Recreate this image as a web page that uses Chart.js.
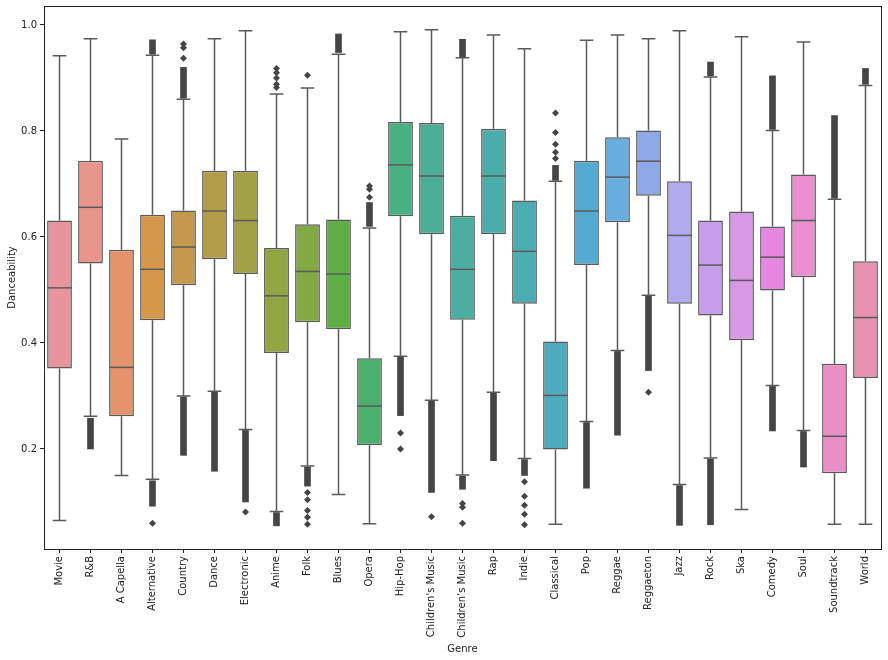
<!DOCTYPE html>
<html>
<head>
<meta charset="utf-8">
<script src="https://cdn.jsdelivr.net/npm/chart.js@4"></script>
<style>
  html, body { margin: 0; padding: 0; background: #fff; }
  #wrap { width: 888px; height: 660px; }
</style>
</head>
<body>
<div id="wrap"><canvas id="box-chart"></canvas></div>
<script>
const genres = ['Movie', 'R&B', 'A Capella', 'Alternative', 'Country', 'Dance', 'Electronic', 'Anime',
  'Folk', 'Blues', 'Opera', 'Hip-Hop', "Children's Music", 'Children\u2019s Music', 'Rap', 'Indie',
  'Classical', 'Pop', 'Reggae', 'Reggaeton', 'Jazz', 'Rock', 'Ska', 'Comedy', 'Soul', 'Soundtrack', 'World']

const whiskerLow = [0.065, 0.262, 0.150, 0.143, 0.300, 0.309, 0.237, 0.082, 0.168, 0.114, 0.059, 0.375, 0.292, 0.151,
  0.307, 0.182, 0.058, 0.252, 0.386, 0.490, 0.133, 0.183, 0.086, 0.320, 0.235, 0.058, 0.058]
const q1 = [0.352, 0.550, 0.262, 0.443, 0.509, 0.558, 0.530, 0.381, 0.439, 0.426, 0.207, 0.639, 0.605, 0.444,
  0.605, 0.474, 0.199, 0.547, 0.628, 0.678, 0.474, 0.452, 0.405, 0.499, 0.524, 0.154, 0.334]
const median = [0.504, 0.656, 0.354, 0.539, 0.581, 0.649, 0.631, 0.489, 0.535, 0.530, 0.281, 0.736, 0.715, 0.539,
  0.715, 0.573, 0.301, 0.649, 0.713, 0.743, 0.603, 0.547, 0.518, 0.562, 0.631, 0.224, 0.448]
const q3 = [0.631, 0.744, 0.576, 0.642, 0.650, 0.725, 0.725, 0.579, 0.624, 0.633, 0.371, 0.817, 0.815, 0.640,
  0.804, 0.669, 0.403, 0.744, 0.788, 0.801, 0.705, 0.631, 0.648, 0.620, 0.718, 0.361, 0.554]
const whiskerHigh = [0.942, 0.974, 0.785, 0.943, 0.860, 0.974, 0.989, 0.870, 0.881, 0.945, 0.617, 0.987, 0.991, 0.938,
  0.981, 0.955, 0.705, 0.971, 0.981, 0.974, 0.989, 0.902, 0.978, 0.801, 0.968, 0.671, 0.886]

// dense runs of outliers, [from, to]
const lowFlierRuns = [null, [0.200, 0.258], null, [0.092, 0.140], [0.188, 0.298], [0.158, 0.307], [0.100, 0.235],
  [0.055, 0.080], [0.130, 0.166], null, null, [0.263, 0.373], [0.118, 0.290], [0.124, 0.149], [0.178, 0.305],
  [0.150, 0.180], null, [0.126, 0.250], [0.226, 0.384], [0.348, 0.488], [0.056, 0.131], [0.057, 0.181], null,
  [0.234, 0.318], [0.166, 0.233], null, null]
const highFlierRuns = [null, null, null, [0.945, 0.972], [0.862, 0.920], null, null, null, null, [0.948, 0.983],
  [0.620, 0.665], null, null, [0.940, 0.973], null, null, [0.707, 0.735], null, null, null, null, [0.904, 0.930],
  null, [0.803, 0.904], null, [0.673, 0.829], [0.888, 0.918]]
// single outliers
const flierPoints = [[], [], [], [0.060], [0.937, 0.957, 0.964], [], [0.081], [0.882, 0.888, 0.900, 0.910, 0.918],
  [0.905, 0.118, 0.104, 0.084, 0.071, 0.058], [], [0.675, 0.690, 0.696], [0.230, 0.200], [0.072], [0.097, 0.090, 0.060],
  [], [0.138, 0.111, 0.094, 0.077, 0.057], [0.748, 0.760, 0.775, 0.797, 0.834], [], [], [0.307], [], [], [], [], [], [], []]

const yTicks = [0.2, 0.4, 0.6, 0.8, 1.0]

const boxColors = ['#e8949f', '#e8968c', '#e4936a', '#d4974c', '#c4994b', '#b39c48', '#a3a045', '#93a543', '#82a944',
  '#5fae45', '#4aaf6a', '#49b086', '#4aaf94', '#4baea0', '#4badaa', '#4cacb2', '#4eabbf', '#53a9d0', '#67ade0',
  '#8fa9e8', '#b1aaee', '#c59fea', '#d898e5', '#e688e2', '#e98fd2', '#ea8fc5', '#e891b0']

const lineGray = '#5a5a5a'
const flierGray = '#454545'
const font = { family: 'DejaVu Sans', size: 10 }

const pointData = []
flierPoints.forEach((vals, i) => vals.forEach(v => pointData.push({ x: genres[i], y: v })))

const boxParts = {
  id: 'boxParts',
  beforeDatasetsDraw(chart) {
    const { ctx, scales: { x, y } } = chart
    const step = x.getPixelForValue(1) - x.getPixelForValue(0)
    const cap = step * 0.22
    ctx.save()
    ctx.strokeStyle = lineGray
    ctx.lineWidth = 1.5
    genres.forEach((g, i) => {
      const cx = x.getPixelForValue(i)
      ctx.beginPath()
      ctx.moveTo(cx, y.getPixelForValue(whiskerLow[i]))
      ctx.lineTo(cx, y.getPixelForValue(q1[i]))
      ctx.moveTo(cx, y.getPixelForValue(q3[i]))
      ctx.lineTo(cx, y.getPixelForValue(whiskerHigh[i]))
      ctx.moveTo(cx - cap, y.getPixelForValue(whiskerLow[i]))
      ctx.lineTo(cx + cap, y.getPixelForValue(whiskerLow[i]))
      ctx.moveTo(cx - cap, y.getPixelForValue(whiskerHigh[i]))
      ctx.lineTo(cx + cap, y.getPixelForValue(whiskerHigh[i]))
      ctx.stroke()
    })
    ctx.restore()
  },
  afterDatasetsDraw(chart) {
    const { ctx, scales: { x, y } } = chart
    const w = (x.getPixelForValue(1) - x.getPixelForValue(0)) * 0.4
    ctx.save()
    ctx.strokeStyle = lineGray
    ctx.lineWidth = 1.5
    genres.forEach((g, i) => {
      const cx = x.getPixelForValue(i)
      const my = y.getPixelForValue(median[i])
      ctx.beginPath()
      ctx.moveTo(cx - w, my)
      ctx.lineTo(cx + w, my)
      ctx.stroke()
    })
    ctx.restore()
  },
  afterDraw(chart) {
    const { ctx, chartArea: a } = chart
    ctx.save()
    ctx.strokeStyle = '#222'
    ctx.lineWidth = 1
    ctx.strokeRect(Math.round(a.left) + 0.5, Math.round(a.top) + 0.5, Math.round(a.right - a.left), Math.round(a.bottom - a.top))
    ctx.restore()
  }
}

const runStyle = {
  type: 'bar',
  backgroundColor: flierGray,
  borderWidth: 0,
  barThickness: 6,
  grouped: false
}

new Chart(document.getElementById('box-chart'), {
  type: 'bar',
  data: {
    labels: genres,
    datasets: [
      {
        label: 'IQR',
        data: genres.map((g, i) => [q1[i], q3[i]]),
        backgroundColor: boxColors,
        borderColor: lineGray,
        borderWidth: 1.5,
        borderSkipped: false,
        categoryPercentage: 0.8,
        barPercentage: 1,
        grouped: false,
        order: 1
      },
      { ...runStyle, label: 'low fliers', data: lowFlierRuns, order: 2 },
      { ...runStyle, label: 'high fliers', data: highFlierRuns, order: 2 },
      {
        type: 'line',
        label: 'fliers',
        data: pointData,
        showLine: false,
        pointStyle: 'rectRot',
        pointRadius: 3.5,
        pointBackgroundColor: flierGray,
        pointBorderColor: flierGray,
        pointBorderWidth: 0,
        order: 0
      }
    ]
  },
  options: {
    responsive: true,
    maintainAspectRatio: false,
    animation: false,
    layout: { padding: { top: 6, right: 7, left: 0, bottom: 0 } },
    plugins: {
      legend: { display: false },
      tooltip: { enabled: false }
    },
    scales: {
      x: {
        type: 'category',
        offset: true,
        grid: { display: true, drawOnChartArea: false, drawTicks: true, tickLength: 4, color: '#222', offset: false },
        border: { display: false },
        ticks: {
          autoSkip: false,
          minRotation: 90,
          maxRotation: 90,
          padding: 3,
          color: '#222',
          font
        },
        title: { display: true, text: 'Genre', color: '#222', font, padding: { top: 0, bottom: 5 } },
        afterFit(scale) {
          scale.height = 111
          scale.paddingLeft = 0
          scale.paddingRight = 0
        }
      },
      y: {
        min: 0.0113,
        max: 1.0358,
        grid: { display: true, drawOnChartArea: false, drawTicks: true, tickLength: 4, color: '#222' },
        border: { display: false },
        afterBuildTicks(scale) { scale.ticks = yTicks.map(v => ({ value: v })) },
        ticks: {
          padding: 3,
          color: '#222',
          font,
          callback: v => v.toFixed(1)
        },
        title: { display: true, text: 'Danceability', color: '#222', font, padding: { top: 6, bottom: 0 } },
        afterFit(scale) {
          scale.width = 44
          scale.paddingTop = 0
          scale.paddingBottom = 0
        }
      }
    }
  },
  plugins: [boxParts]
})
</script>
</body>
</html>
